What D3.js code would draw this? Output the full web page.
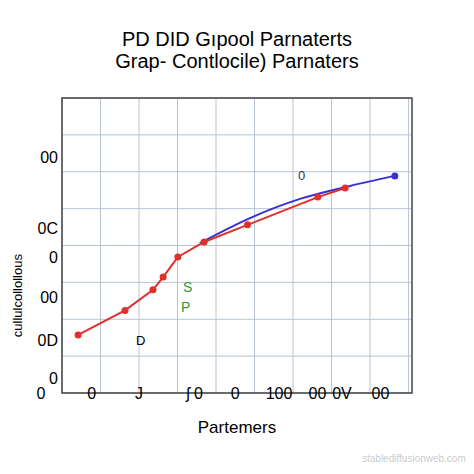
<!DOCTYPE html>
<html><head><meta charset="utf-8">
<script src="https://cdn.jsdelivr.net/npm/d3@7"></script>
<style>body{margin:0;background:#fff}</style>
</head><body>
<div id="chart"></div>
<script>
const titleLines = ["PD DID Gıpool Parnaterts", "Grap- Contlocile) Parnaters"];
const xLabel = "Partemers";
const xTicks = [[-0.6,"0"],[0.85,"0"],[2.2,"J"],[3.6,"ʃ"],[3.9,"0"],[4.95,"0"],[6.2,"100"],[7.3,"00"],[8.0,"0V"],[9.1,"00"]];
const yTicks = [[8.0,"00"],[5.6,"0C"],[4.6,"0"],[3.25,"00"],[1.8,"0D"],[0.5,"0"]];
const redX = [0.46, 1.8, 2.6, 2.89, 3.31, 4.06, 5.3, 7.31, 8.09];
const redY = [1.97, 2.8, 3.5, 3.93, 4.61, 5.12, 5.7, 6.64, 6.95];
const blueX = [3.94, 5.37, 6.8, 8.23, 9.51];
const blueY = [5.08, 5.93, 6.58, 7.02, 7.36];

const W = 474, H = 474;
const m = { top: 98, left: 62, right: 62, bottom: 81 };
const svg = d3.select("#chart").append("svg").attr("width", W).attr("height", H);
const x = d3.scaleLinear().domain([0, 10]).range([m.left, W - m.right]);
const y = d3.scaleLinear().domain([0, 10]).range([H - m.bottom, m.top]);

svg.selectAll(".t").data(titleLines).enter().append("text")
  .attr("x", W / 2).attr("y", (d, i) => 46 + i * 22).attr("text-anchor", "middle")
  .attr("font-family", "Liberation Sans, Arial").attr("font-size", 20).text(d => d);

const g = svg.append("g");
g.selectAll(".vx").data(d3.range(0, 10.01, 1.1)).enter().append("line")
  .attr("x1", d => x(d)).attr("x2", d => x(d)).attr("y1", y(10)).attr("y2", y(0))
  .attr("stroke", "#b8c4d4").attr("stroke-width", 1);
g.selectAll(".hy").data(d3.range(0, 10.01, 1.25)).enter().append("line")
  .attr("y1", d => y(d)).attr("y2", d => y(d)).attr("x1", x(0)).attr("x2", x(10))
  .attr("stroke", "#b8c4d4").attr("stroke-width", 1);
g.append("rect").attr("x", x(0)).attr("y", y(10)).attr("width", x(10) - x(0)).attr("height", y(0) - y(10))
  .attr("fill", "none").attr("stroke", "#444").attr("stroke-width", 1.5);

svg.selectAll(".xt").data(xTicks).enter().append("text")
  .attr("x", d => x(d[0])).attr("y", H - m.bottom + 6).attr("text-anchor", "middle")
  .attr("font-family", "Liberation Sans, Arial").attr("font-size", 16).text(d => d[1]);
svg.selectAll(".yt").data(yTicks).enter().append("text")
  .attr("x", m.left - 4).attr("y", d => y(d[0]) + 6).attr("text-anchor", "end")
  .attr("font-family", "Liberation Sans, Arial").attr("font-size", 16).text(d => d[1]);
svg.append("text").attr("x", 22).attr("y", y(3.3)).attr("transform", `rotate(-90,22,${y(3.3)})`)
  .attr("text-anchor", "middle").attr("font-family", "Liberation Sans, Arial").attr("font-size", 13)
  .text("cullulcollollous");
svg.append("text").attr("x", W / 2).attr("y", 433).attr("text-anchor", "middle")
  .attr("font-family", "Liberation Sans, Arial").attr("font-size", 17).text(xLabel);

const line = d3.line().x(d => x(d[0])).y(d => y(d[1]));
const blue = blueX.map((v, i) => [v, blueY[i]]);
const red = redX.map((v, i) => [v, redY[i]]);
svg.append("path").datum(blue).attr("d", line.curve(d3.curveMonotoneX)).attr("fill", "none")
  .attr("stroke", "#3a2fd8").attr("stroke-width", 2);
svg.append("circle").attr("cx", x(blueX[4])).attr("cy", y(blueY[4])).attr("r", 3.5).attr("fill", "#3a2fd8");
svg.append("path").datum(red).attr("d", d3.line().x(d => x(d[0])).y(d => y(d[1]))).attr("fill", "none")
  .attr("stroke", "#e0302a").attr("stroke-width", 2);
svg.selectAll(".rp").data(red).enter().append("circle")
  .attr("cx", d => x(d[0])).attr("cy", d => y(d[1])).attr("r", 3.5).attr("fill", "#e0302a");

svg.append("text").attr("x", 183).attr("y", 292).attr("fill", "#2a9a3a").attr("font-size", 14)
  .attr("font-family", "Liberation Sans, Arial").text("S");
svg.append("text").attr("x", 181).attr("y", 312).attr("fill", "#2a9a3a").attr("font-size", 14)
  .attr("font-family", "Liberation Sans, Arial").text("P");
svg.append("text").attr("x", 136).attr("y", 345).attr("font-size", 13)
  .attr("font-family", "Liberation Sans, Arial").text("D");
svg.append("text").attr("x", 298).attr("y", 180).attr("fill", "#335").attr("font-size", 13)
  .attr("font-family", "Liberation Sans, Arial").text("0");
svg.append("text").attr("x", 362).attr("y", 462).attr("fill", "#ccc").attr("font-size", 10)
  .attr("font-family", "Liberation Sans, Arial").text("stablediffusionweb.com");
</script>
</body></html>
